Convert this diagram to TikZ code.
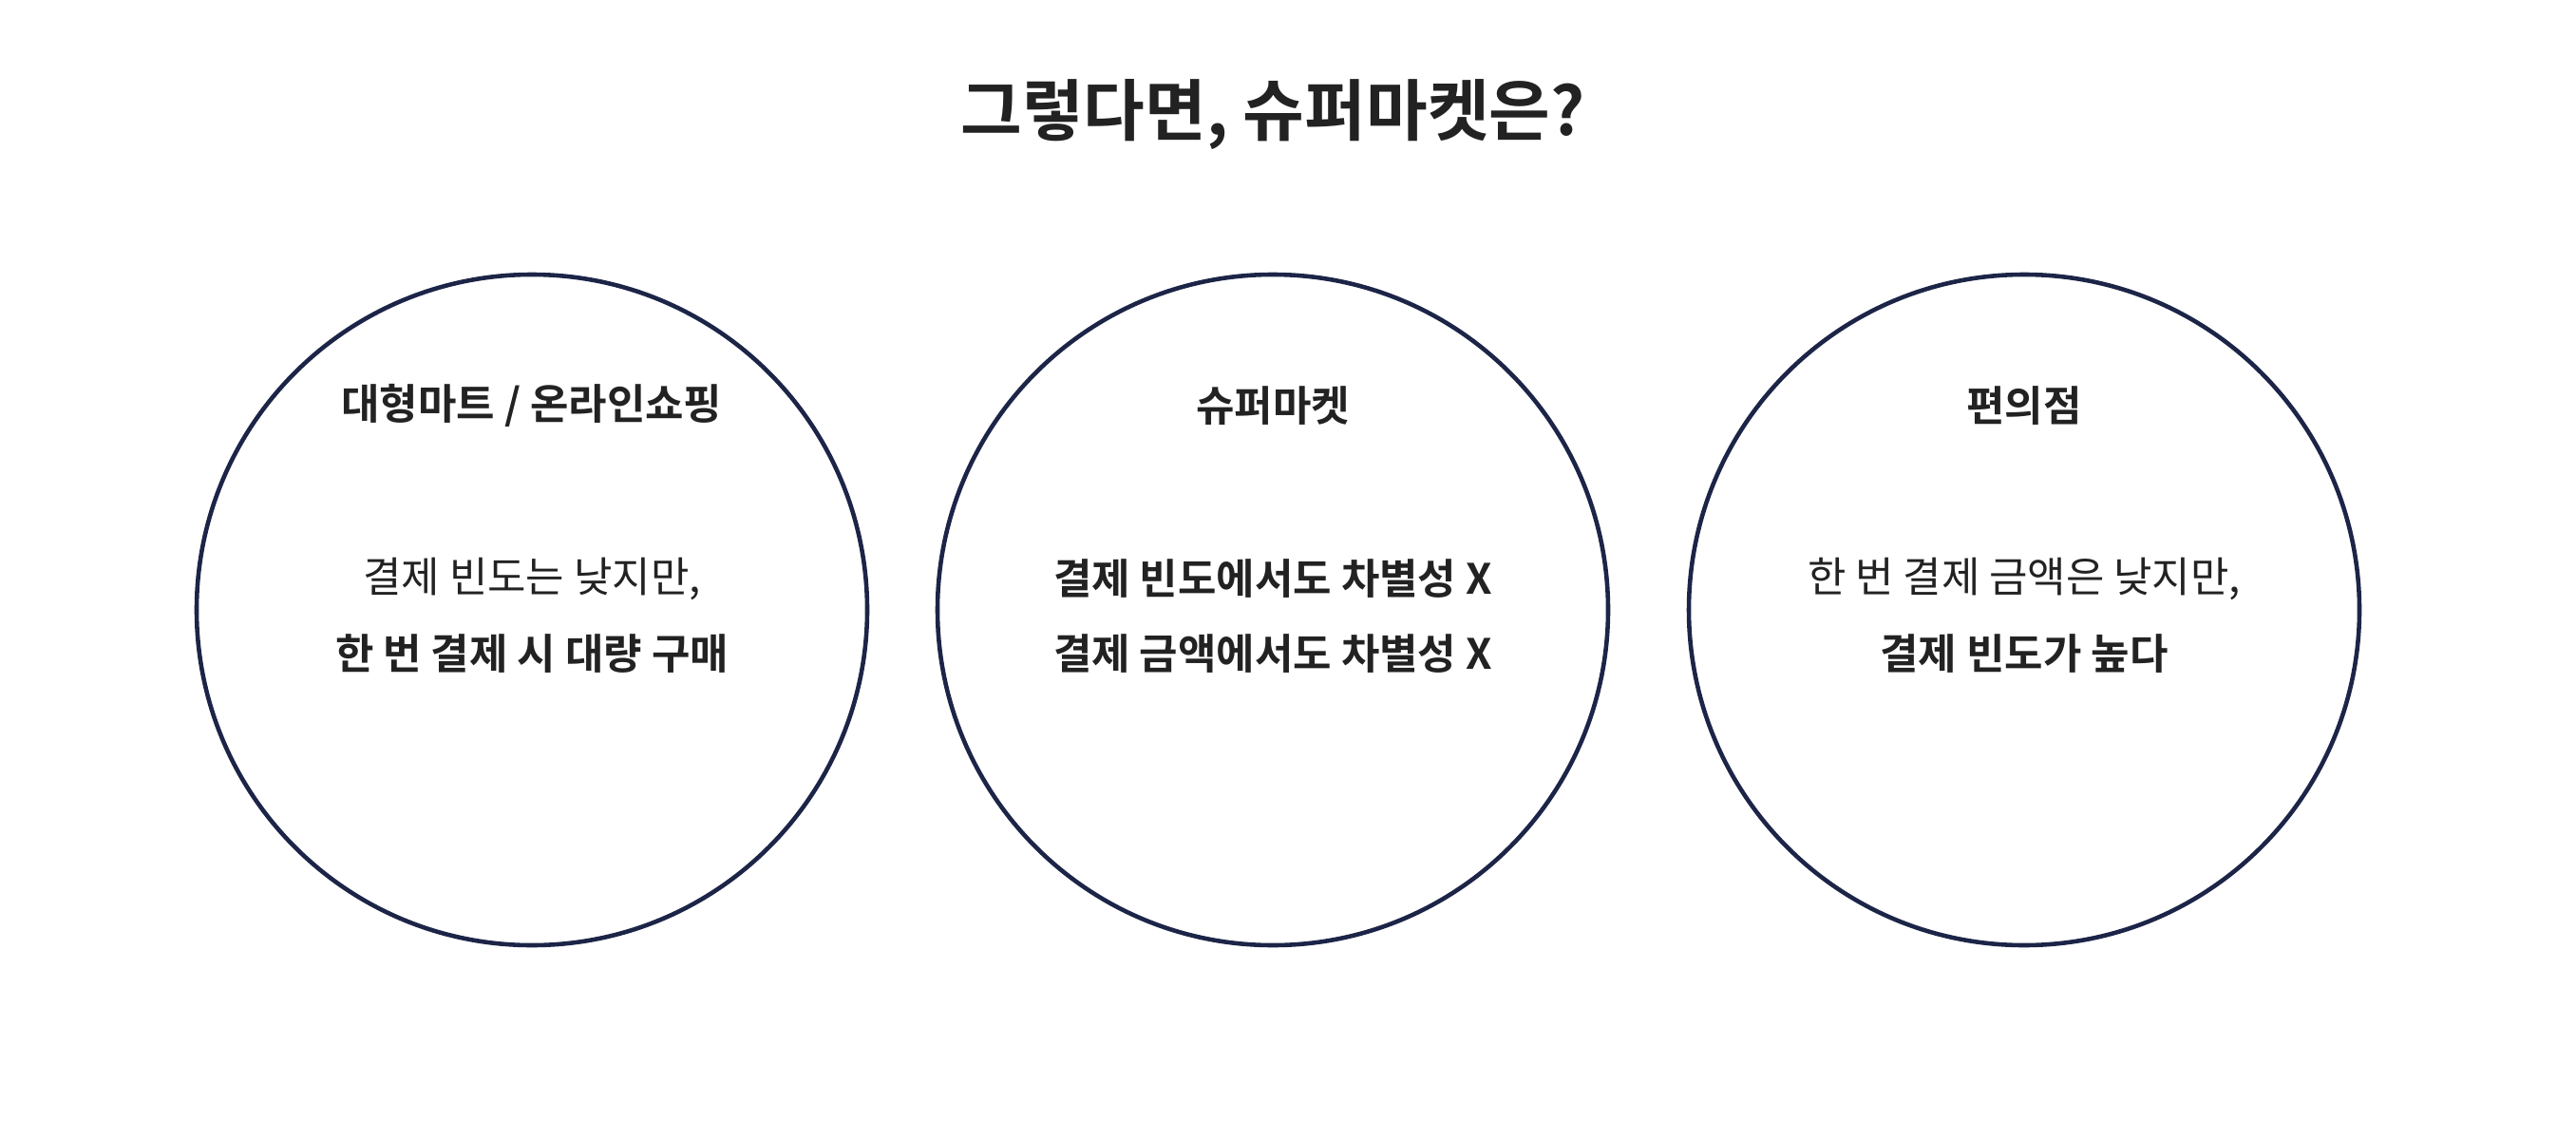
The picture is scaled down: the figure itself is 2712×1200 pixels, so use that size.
\documentclass[tikz,border=0pt]{standalone}
\usepackage{fontspec}
\setmainfont{Noto Sans CJK KR}
\newfontfamily\kb{Noto Sans CJK KR Bold}
\definecolor{navy}{HTML}{1C2547}
\definecolor{txt}{HTML}{222222}
\begin{document}
\begin{tikzpicture}[x=0.01cm,y=-0.01cm,
  ring/.style={draw=navy,line width=1.3pt,circle,minimum size=706\pgflinewidth,inner sep=0},
  hd/.style={font=\kb\fontsize{12.5pt}{15pt}\selectfont,text=txt},
  tx/.style={font=\fontsize{12.5pt}{15pt}\selectfont,text=txt},
  tb/.style={font=\kb\fontsize{12.5pt}{15pt}\selectfont,text=txt}]
\useasboundingbox (0,0) rectangle (2712,1200);
\node[font=\kb\fontsize{20pt}{24pt}\selectfont,text=txt] (title) at (1340,121) {그렇다면, 슈퍼마켓은?};
\foreach \n/\x in {a/560,b/1340,c/2131}{
  \draw[navy,line width=1.3pt] (\x,642) circle[radius=353];
}
\node[hd] (ha) at (560,427) {대형마트 / 온라인쇼핑};
\node[tx] (a1) at (560,609) {결제 빈도는 낮지만,};
\node[tb] (a2) at (560,688) {한 번 결제 시 대량 구매};
\node[hd] (hb) at (1340,427) {슈퍼마켓};
\node[tb] (b1) at (1340,609) {결제 빈도에서도 차별성 X};
\node[tb] (b2) at (1340,688) {결제 금액에서도 차별성 X};
\node[hd] (hc) at (2131,427) {편의점};
\node[tx] (c1) at (2131,609) {한 번 결제 금액은 낮지만,};
\node[tb] (c2) at (2131,688) {결제 빈도가 높다};
\end{tikzpicture}
\end{document}
